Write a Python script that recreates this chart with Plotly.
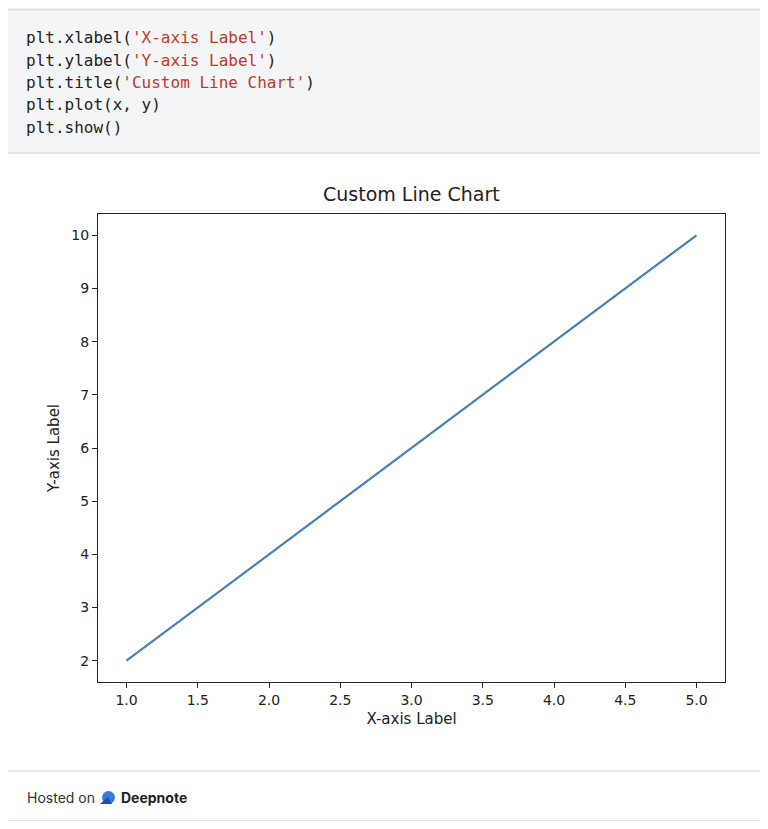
import plotly.graph_objects as go

W, H = 768, 829
OFF = 8  # page body margin
FW, FH = W - 2 * OFF, H - 2 * OFF

x = [1, 2, 3, 4, 5]
y = [2, 4, 6, 8, 10]
x_ticks = [1.0, 1.5, 2.0, 2.5, 3.0, 3.5, 4.0, 4.5, 5.0]
y_ticks = [2, 3, 4, 5, 6, 7, 8, 9, 10]

code_lines = [
    ("plt.xlabel(", "'X-axis Label'", ")"),
    ("plt.ylabel(", "'Y-axis Label'", ")"),
    ("plt.title(", "'Custom Line Chart'", ")"),
    ("plt.plot(x, y)", "", ""),
    ("plt.show()", "", ""),
]


def px(v):
    return (v - OFF) / FW


def py(v):
    return 1 - (v - OFF) / FH


fig = go.Figure()
fig.add_trace(go.Scatter(x=x, y=y, mode="lines",
                         line=dict(color="#4a7fb5", width=2.2), showlegend=False))

shapes = [
    # card
    dict(type="rect", xref="paper", yref="paper", x0=px(5), x1=px(763), y0=py(821), y1=py(10),
         fillcolor="white", line=dict(color="#d9dde2", width=1.5), layer="below"),
    # code block
    dict(type="rect", xref="paper", yref="paper", x0=px(6), x1=px(762), y0=py(153), y1=py(11),
         fillcolor="#f4f5f6", line=dict(width=0), layer="below"),
    dict(type="line", xref="paper", yref="paper", x0=px(6), x1=px(762), y0=py(153), y1=py(153),
         line=dict(color="#dde0e4", width=1.5)),
    dict(type="line", xref="paper", yref="paper", x0=px(6), x1=px(762), y0=py(771), y1=py(771),
         line=dict(color="#dde0e4", width=1.5)),
    # logo
    dict(type="circle", xref="paper", yref="paper", x0=px(102), x1=px(115), y0=py(804), y1=py(791),
         fillcolor="#3a7be0", line=dict(width=0)),
    dict(type="path", xref="paper", yref="paper",
         path=f"M {px(100)},{py(804)} L {px(108)},{py(797)} L {px(112)},{py(804)} Z",
         fillcolor="#1f4fa8", line=dict(width=0)),
]

annotations = []
for i, (a, s, b) in enumerate(code_lines):
    txt = a + (f"<span style='color:#c0392b'>{s}</span>" if s else "") + b
    annotations.append(dict(x=px(24), y=py(38 + i * 22.3), xref="paper", yref="paper",
                            text=txt, showarrow=False, xanchor="left", yanchor="middle",
                            font=dict(family="DejaVu Sans Mono", size=16, color="#222")))
annotations.append(dict(x=px(25), y=py(797), xref="paper", yref="paper", text="Hosted on",
                        showarrow=False, xanchor="left", yanchor="middle",
                        font=dict(family="Inter", size=14, color="#333")))
annotations.append(dict(x=px(119), y=py(797), xref="paper", yref="paper", text="<b>Deepnote</b>",
                        showarrow=False, xanchor="left", yanchor="middle",
                        font=dict(family="Inter", size=14, color="#222")))
annotations.append(dict(x=px(411), y=py(194), xref="paper", yref="paper", text="Custom Line Chart",
                        showarrow=False, xanchor="center", yanchor="middle",
                        font=dict(family="DejaVu Sans", size=19, color="#222")))

axis_common = dict(showgrid=False, zeroline=False, showline=True, linecolor="#222", linewidth=1.2,
                   mirror=True, ticks="outside", ticklen=5, tickcolor="#222",
                   tickfont=dict(family="DejaVu Sans", size=14, color="#222"))

fig.update_layout(
    width=FW, height=FH, margin=dict(l=0, r=0, t=0, b=0),
    paper_bgcolor="#eff1f1", plot_bgcolor="white",
    shapes=shapes, annotations=annotations,
    xaxis=dict(domain=[px(98), px(725)], range=[0.8, 5.2], tickvals=x_ticks,
               ticktext=[f"{v:.1f}" for v in x_ticks],
               title=dict(text="X-axis Label", standoff=6,
                          font=dict(family="DejaVu Sans", size=15, color="#222")),
               **axis_common),
    yaxis=dict(domain=[py(682), py(214)], range=[1.6, 10.4], tickvals=y_ticks,
               title=dict(text="Y-axis Label", standoff=8,
                          font=dict(family="DejaVu Sans", size=15, color="#222")),
               **axis_common),
)

fig.write_html("out.html")
